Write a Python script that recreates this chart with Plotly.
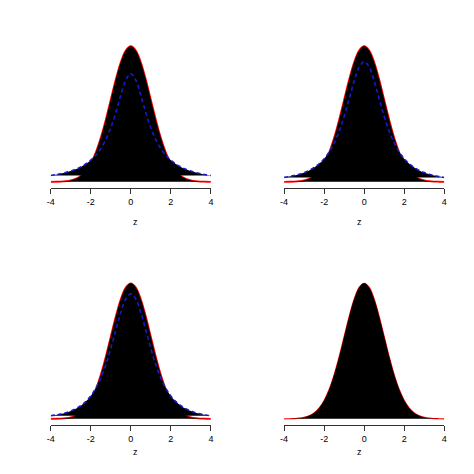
import plotly.graph_objects as go

# grid of z values (one side, mirrored below)
z_half = [0, 0.25, 0.5, 0.75, 1.0, 1.25, 1.5, 1.75, 2.0, 2.25, 2.5, 2.75,
          3.0, 3.25, 3.5, 3.75, 4.0]

# normal density
normal_half = [0.3989, 0.3867, 0.3521, 0.3011, 0.2420, 0.1826, 0.1295, 0.0863,
               0.0540, 0.0317, 0.0175, 0.0091, 0.0044, 0.0020, 0.0009, 0.0004, 0.0001]

# t densities (blue dashed), df = 1, 2, 3; last panel shows the normal alone
t1_half = [0.3183, 0.2996, 0.2546, 0.2037, 0.1592, 0.1242, 0.0979, 0.0784,
           0.0637, 0.0525, 0.0439, 0.0372, 0.0318, 0.0275, 0.0240, 0.0211, 0.0187]
t2_half = [0.3536, 0.3376, 0.2963, 0.2438, 0.1925, 0.1487, 0.1141, 0.0878,
           0.0680, 0.0533, 0.0422, 0.0338, 0.0274, 0.0225, 0.0186, 0.0155, 0.0131]
t3_half = [0.3676, 0.3527, 0.3132, 0.2606, 0.2067, 0.1589, 0.1200, 0.0900,
           0.0675, 0.0509, 0.0387, 0.0297, 0.0230, 0.0180, 0.0142, 0.0114, 0.0092]

tick_vals = [-4, -2, 0, 2, 4]
tick_text = ['-4', '-2', '0', '2', '4']


def mirror(half, neg=False):
    left = [-v for v in half[:0:-1]] if neg else half[:0:-1]
    return left + half


z = mirror(z_half, neg=True)
normal = mirror(normal_half)
t_curves = [mirror(t1_half), mirror(t2_half), mirror(t3_half), None]

# panel placement (paper coords); page body has an 8px margin so figure is 458
x_domains = [[0.0858, 0.4410], [0.6033, 0.9585], [0.0858, 0.4410], [0.6033, 0.9585]]
y_domains = [[0.6070, 0.9321], [0.6070, 0.9321], [0.0895, 0.4146], [0.0895, 0.4146]]
z_label_y = [0.5334, 0.5334, 0.0153, 0.0153]

fig = go.Figure()
for i, t in enumerate(t_curves):
    xa = 'x' if i == 0 else 'x%d' % (i + 1)
    ya = 'y' if i == 0 else 'y%d' % (i + 1)
    # red line first, black polygons drawn over it leave only a thin red rim
    red_w = 1.8 if t is not None else 1.2
    fig.add_trace(go.Scatter(x=z, y=normal, mode='lines',
                             line=dict(color='red', width=red_w, shape='spline'),
                             xaxis=xa, yaxis=ya))
    fig.add_trace(go.Scatter(x=z, y=normal, mode='lines', fill='toself',
                             fillcolor='black', line=dict(width=0, shape='spline'),
                             xaxis=xa, yaxis=ya, hoverinfo='skip'))
    if t is None:
        continue
    fig.add_trace(go.Scatter(x=z, y=t, mode='lines', fill='toself',
                             fillcolor='black', line=dict(width=0, shape='spline'),
                             xaxis=xa, yaxis=ya, hoverinfo='skip'))
    fig.add_trace(go.Scatter(x=z, y=t, mode='lines',
                             line=dict(color='#1a1acc', width=1.6, dash='4px,3px', shape='spline'),
                             xaxis=xa, yaxis=ya))

layout = dict(width=458, height=458, margin=dict(l=0, r=0, t=0, b=0),
              paper_bgcolor='white', plot_bgcolor='white', showlegend=False,
              font=dict(family='Liberation Sans, Arial, sans-serif', color='black'))
for i in range(4):
    xk = 'xaxis' if i == 0 else 'xaxis%d' % (i + 1)
    yk = 'yaxis' if i == 0 else 'yaxis%d' % (i + 1)
    ya = 'y' if i == 0 else 'y%d' % (i + 1)
    xa = 'x' if i == 0 else 'x%d' % (i + 1)
    layout[xk] = dict(domain=x_domains[i], anchor=ya, range=[-4, 4],
                      showgrid=False, zeroline=False, showline=True,
                      linecolor='#333333', linewidth=1, ticks='outside',
                      ticklen=5, tickcolor='#333333', tickvals=tick_vals,
                      ticktext=tick_text, tickfont=dict(size=9))
    layout[yk] = dict(domain=y_domains[i], anchor=xa, range=[-0.018, 0.42],
                      visible=False)
fig.update_layout(**layout)

# axis titles
for i in range(4):
    fig.add_annotation(text='z', xref='paper', yref='paper', showarrow=False,
                       x=sum(x_domains[i]) / 2, y=z_label_y[i],
                       font=dict(size=9))

fig.write_html("out.html")
